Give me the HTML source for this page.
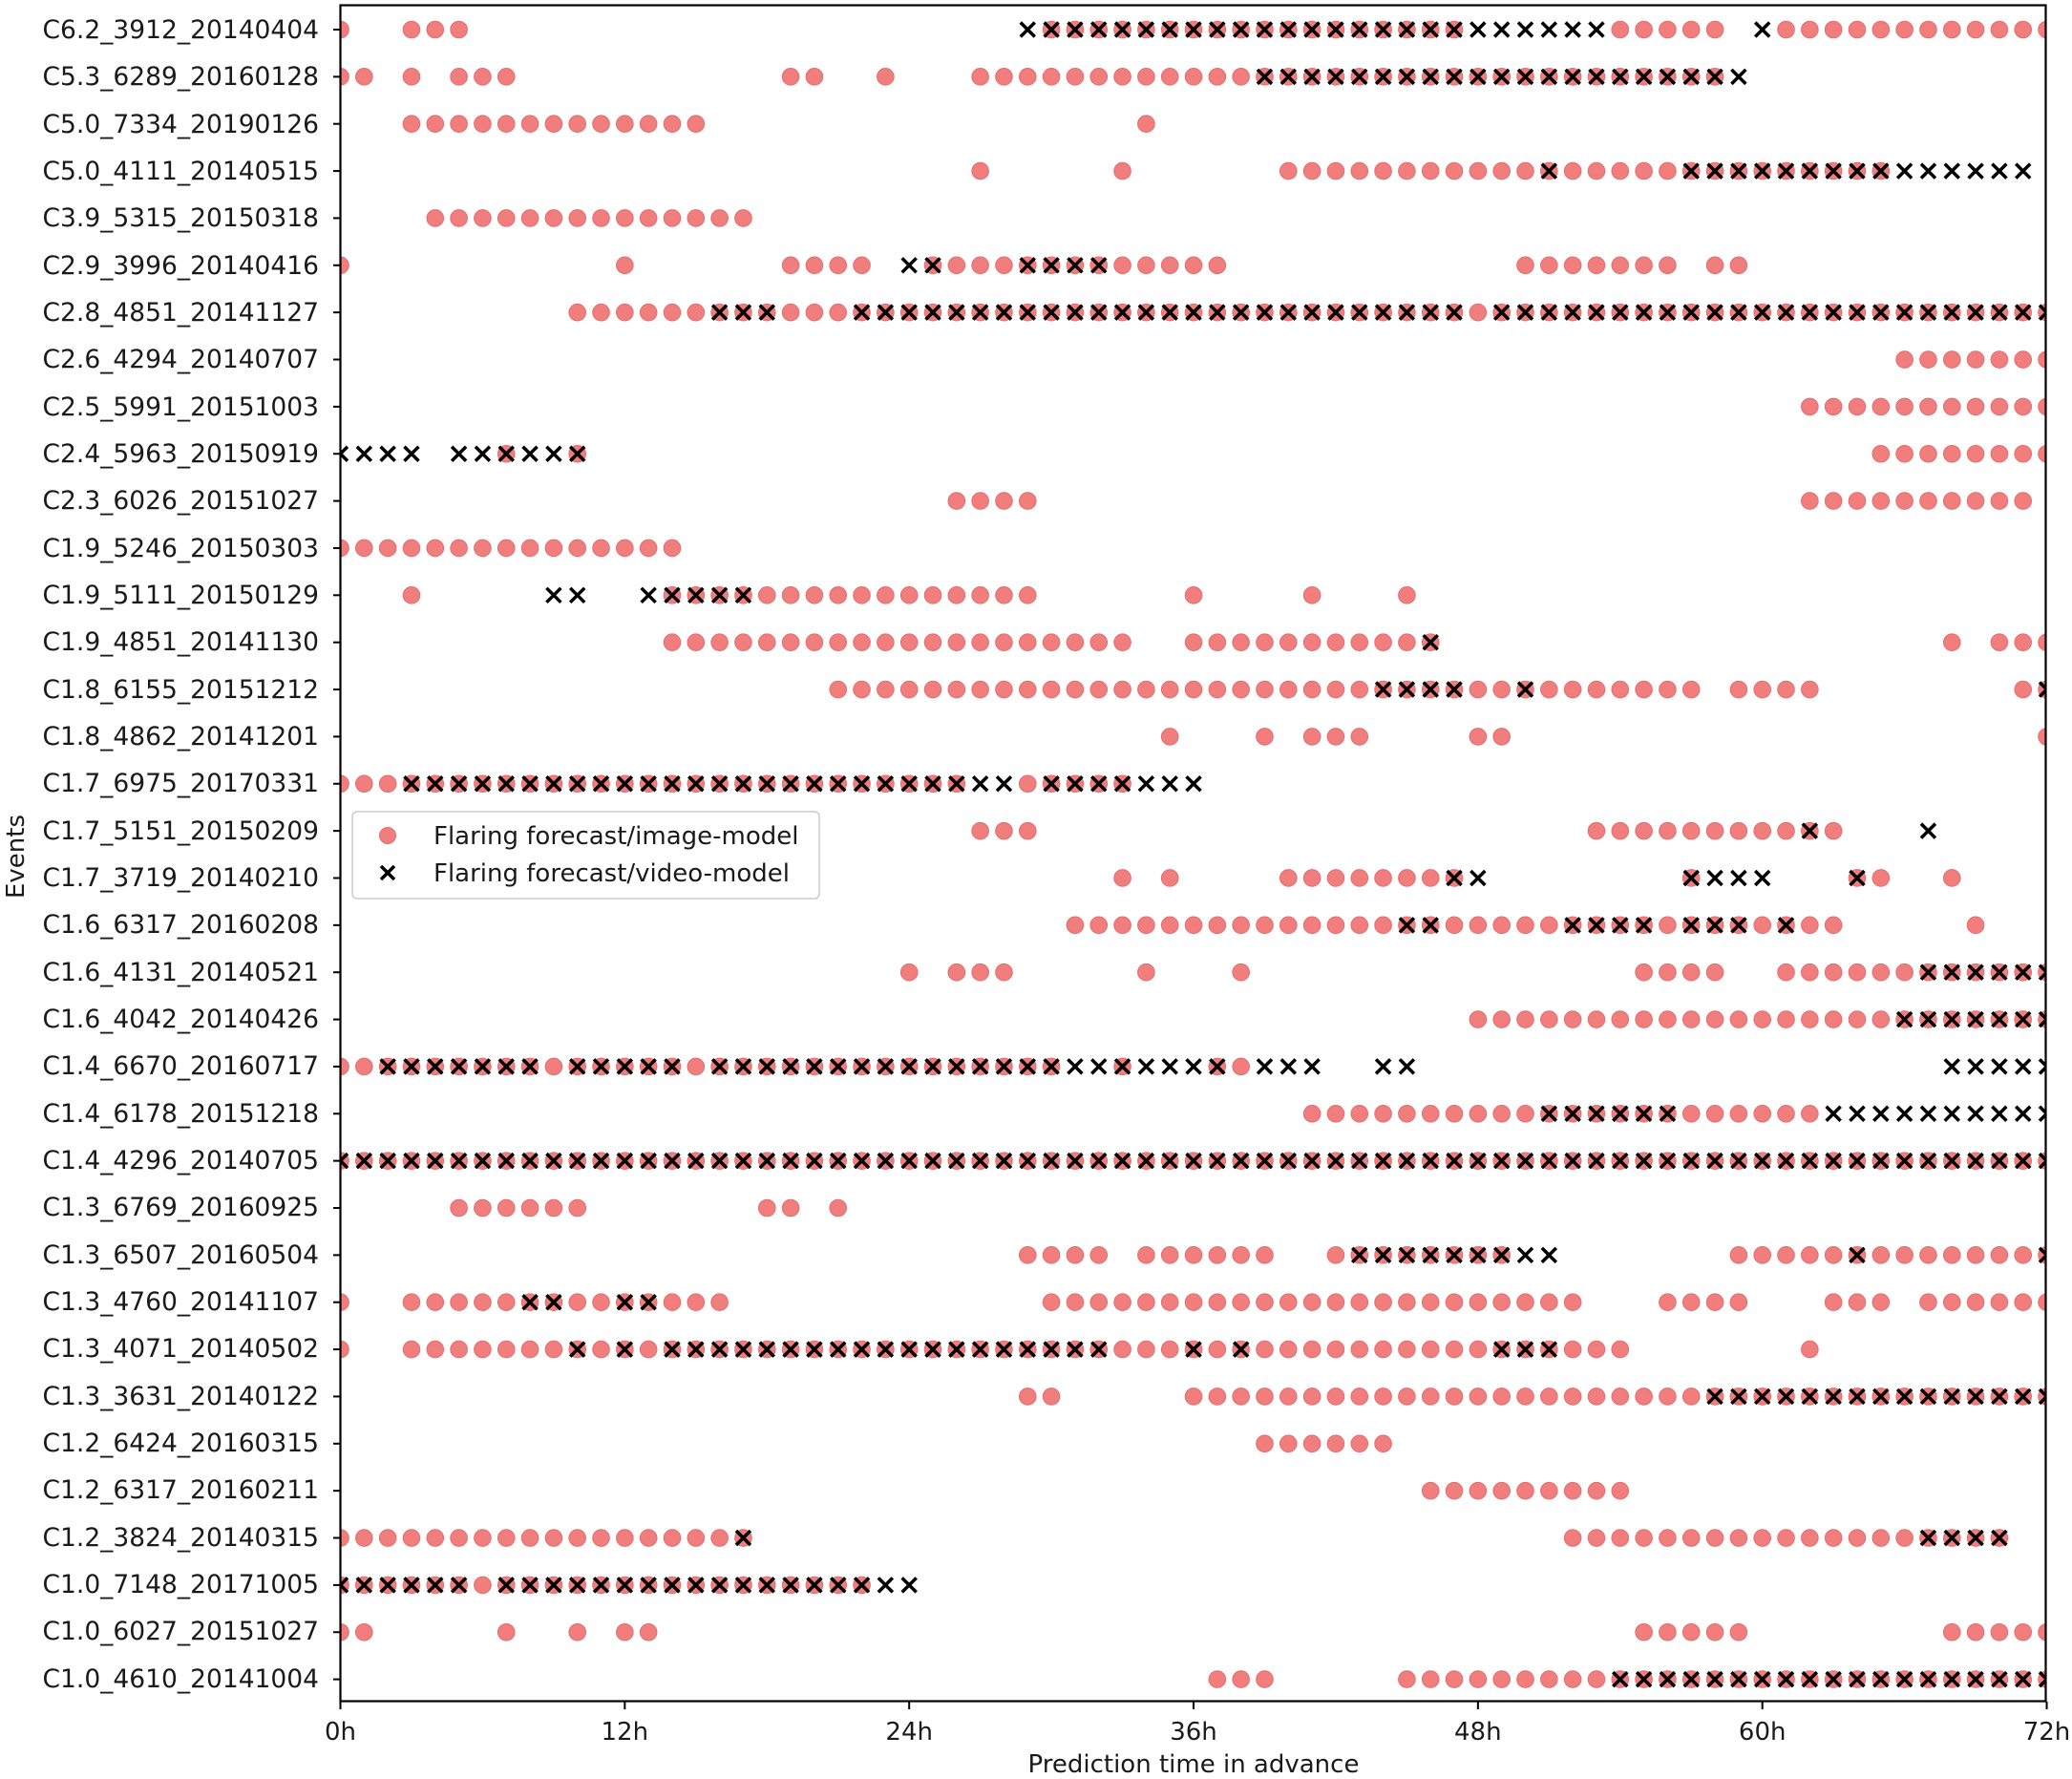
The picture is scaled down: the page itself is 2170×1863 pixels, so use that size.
<!DOCTYPE html>
<html><head><meta charset="utf-8"><style>
html,body{margin:0;padding:0;background:#fff}
svg{display:block}
text{font-family:"DejaVu Sans","Liberation Sans",sans-serif;fill:#1a1a1a}
</style></head><body>
<svg id="s" width="2170" height="1863" viewBox="0 0 2170 1863" xmlns="http://www.w3.org/2000/svg">
<defs><clipPath id="cp"><rect x="356.5" y="5.5" width="1786" height="1776"/></clipPath></defs>
<g id="marks" clip-path="url(#cp)"></g>
<rect x="356.5" y="5.5" width="1786" height="1776" fill="none" stroke="#000" stroke-width="2.2"/>
<g font-size="26.5" text-anchor="end" id="ylab">
<text x="334" y="40">C6.2_3912_20140404</text>
<text x="334" y="89">C5.3_6289_20160128</text>
<text x="334" y="139">C5.0_7334_20190126</text>
<text x="334" y="188">C5.0_4111_20140515</text>
<text x="334" y="237">C3.9_5315_20150318</text>
<text x="334" y="287">C2.9_3996_20140416</text>
<text x="334" y="336">C2.8_4851_20141127</text>
<text x="334" y="385">C2.6_4294_20140707</text>
<text x="334" y="435">C2.5_5991_20151003</text>
<text x="334" y="484">C2.4_5963_20150919</text>
<text x="334" y="533">C2.3_6026_20151027</text>
<text x="334" y="583">C1.9_5246_20150303</text>
<text x="334" y="632">C1.9_5111_20150129</text>
<text x="334" y="681">C1.9_4851_20141130</text>
<text x="334" y="731">C1.8_6155_20151212</text>
<text x="334" y="780">C1.8_4862_20141201</text>
<text x="334" y="829">C1.7_6975_20170331</text>
<text x="334" y="879">C1.7_5151_20150209</text>
<text x="334" y="928">C1.7_3719_20140210</text>
<text x="334" y="977">C1.6_6317_20160208</text>
<text x="334" y="1027">C1.6_4131_20140521</text>
<text x="334" y="1076">C1.6_4042_20140426</text>
<text x="334" y="1125">C1.4_6670_20160717</text>
<text x="334" y="1175">C1.4_6178_20151218</text>
<text x="334" y="1224">C1.4_4296_20140705</text>
<text x="334" y="1273">C1.3_6769_20160925</text>
<text x="334" y="1323">C1.3_6507_20160504</text>
<text x="334" y="1372">C1.3_4760_20141107</text>
<text x="334" y="1421">C1.3_4071_20140502</text>
<text x="334" y="1471">C1.3_3631_20140122</text>
<text x="334" y="1520">C1.2_6424_20160315</text>
<text x="334" y="1569">C1.2_6317_20160211</text>
<text x="334" y="1619">C1.2_3824_20140315</text>
<text x="334" y="1668">C1.0_7148_20171005</text>
<text x="334" y="1717">C1.0_6027_20151027</text>
<text x="334" y="1767">C1.0_4610_20141004</text>
</g>
<g id="ticks" stroke="#000" stroke-width="2"></g>
<g font-size="26" text-anchor="middle">
<text x="356.5" y="1822">0h</text>
<text x="654.3" y="1822">12h</text>
<text x="952.2" y="1822">24h</text>
<text x="1250" y="1822">36h</text>
<text x="1547.8" y="1822">48h</text>
<text x="1845.7" y="1822">60h</text>
<text x="2143.5" y="1822">72h</text>
<text x="1250" y="1856">Prediction time in advance</text>
<text x="0" y="0" transform="translate(25,897) rotate(-90)">Events</text>
</g>
<rect x="369" y="850" width="489" height="91" rx="5" fill="#fff" fill-opacity="0.8" stroke="#ccc" stroke-width="1.5"/>
<circle cx="406" cy="875" r="8.5" fill="#f07070" stroke="#e06060" stroke-width="1" opacity="0.9"/>
<path d="M399 907 l14 14 M413 907 l-14 14" stroke="#000" stroke-width="3.5"/>
<g font-size="26"><text x="454" y="884">Flaring forecast/image-model</text><text x="454" y="923">Flaring forecast/video-model</text></g>
</svg>
<script>
var D=[
"0,3-5,30-47,54-58,61-72","0,1,3,5-7,19,20,23,27-58","3-15,34","27,33,40-65","4-17",
"0,12,19-22,25-37,50-56,58,59","10-72","66-72","62-72","7,10,65-72","26-29,62-71","0-14",
"3,14-29,36,41,45","14-33,36-46,68,70-72","21-57,59-62,71,72","35,39,41-43,48,49,72",
"0-26,29-33","27-29,53-63","33,35,40-47,57,64,65,68","31-63,69","24,26-28,34,38,55-58,61-72",
"48-72","0-30,33,37,38","41-62","0-72","5-10,18,19,21","29-32,34-39,42-49,59-72",
"0,3-16,30-52,56-59,63-65,67-72","0,3-54,62","29,30,36-72","39-44","46-54","0-17,52-70",
"0-22","0,1,7,10,12,13,55-59,68-72","37-39,45-72"];
var X=[
"29-53,60","39-59","","51,57-71","","24,25,29-32","16-18,22-47,49-72","","","0-3,5-10","","",
"9,10,13-17","46","44-47,50,72","","3-28,30-36","62,67","47,48,57-60,64","45,46,52-55,57-59,61",
"67-72","66-72","2-8,10-14,16-36,37,39-41,44,45,68-72","51-56,63-72","0-72","","43-51,64,72",
"8,9,12,13","10,12,14-32,36,38,49-51","58-72","","","17,67-70","0-5,7-24","","54-72"];
function parse(s){var r=[];if(!s)return r;s.split(",").forEach(function(p){var a=p.split("-");var lo=+a[0],hi=a.length>1?+a[1]:lo;for(var i=lo;i<=hi;i++)r.push(i);});return r;}
var g=document.getElementById("marks"),h="";
function xp(t){return 356.5+t*24.82;}
function yp(i){return 31+i*49.36;}
for(var i=0;i<36;i++){parse(D[i]).forEach(function(t){h+='<circle cx="'+xp(t)+'" cy="'+yp(i)+'" r="8.8" fill="#f07070" stroke="#dd6060" stroke-width="1" opacity="0.9"/>';});}
for(var i=0;i<36;i++){parse(X[i]).forEach(function(t){var x=xp(t),y=yp(i);h+='<path d="M'+(x-7.5)+' '+(y-7.5)+'l15 15M'+(x+7.5)+' '+(y-7.5)+'l-15 15" stroke="#000" stroke-width="3.5"/>';});}
g.innerHTML=h;
var t="";for(var i=0;i<36;i++)t+='<path d="M349 '+yp(i)+'h7.5"/>';
for(var k=0;k<=6;k++)t+='<path d="M'+xp(k*12)+' 1782v8"/>';
document.getElementById("ticks").innerHTML=t;
</script>
</body></html>
